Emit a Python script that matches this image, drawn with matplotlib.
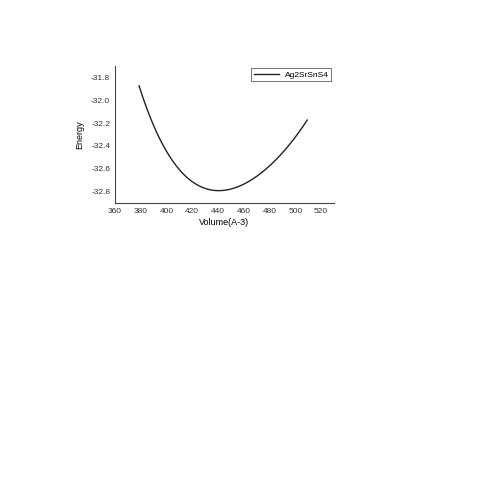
import numpy as np
import matplotlib
matplotlib.use("Agg")
import matplotlib.pyplot as plt
from numpy.polynomial import polynomial as P

# values
volume = [378.7, 386.9, 399.8, 412.6, 425.4, 433.0, 438.2, 443.3, 450.0, 458.7, 471.5, 484.4, 497.2, 509.2]
energy = [-31.868, -32.147, -32.44, -32.645, -32.747, -32.777, -32.79, -32.79, -32.777, -32.747, -32.66, -32.53, -32.35, -32.18]
xticks = [360, 380, 400, 420, 440, 460, 480, 500, 520]
yticks = [-32.8, -32.6, -32.4, -32.2, -32.0, -31.8]

plt.rcParams['font.family'] = ['Liberation Sans', 'DejaVu Sans']

fig = plt.figure(figsize=(4.95, 4.95), dpi=100)
ax = fig.add_axes([0.2323, 0.5899, 0.4424, 0.2768])

# smooth curve through the hand-read points
coef = P.polyfit(volume, energy, 4)
xs = np.linspace(volume[0], volume[-1], 200)
ax.plot(xs, P.polyval(xs, coef), color="#222222", lw=1.0, label="Ag2SrSnS4")

ax.set_xlim(360, 530)
ax.set_ylim(-32.9, -31.7)
ax.set_xticks(xticks)
ax.set_yticks(yticks)
ax.set_yticklabels([f"{v:.1f}" for v in yticks])
ax.tick_params(length=0, labelsize=6, colors="#333333", pad=3.5)
for s in ["top", "right"]:
    ax.spines[s].set_visible(False)
for s in ["left", "bottom"]:
    ax.spines[s].set_linewidth(0.8)
    ax.spines[s].set_color("#444444")

ax.set_xlabel("Volume(A-3)", fontsize=6.5, labelpad=2)
ax.set_ylabel("Energy", fontsize=6.5, labelpad=5)

leg = ax.legend(loc="upper right", fontsize=6, frameon=True, fancybox=False,
                handlelength=3, borderpad=0.3, borderaxespad=0.3)
leg.get_frame().set_edgecolor("#333333")
leg.get_frame().set_linewidth(0.6)

fig.savefig("out.png", dpi=100)
